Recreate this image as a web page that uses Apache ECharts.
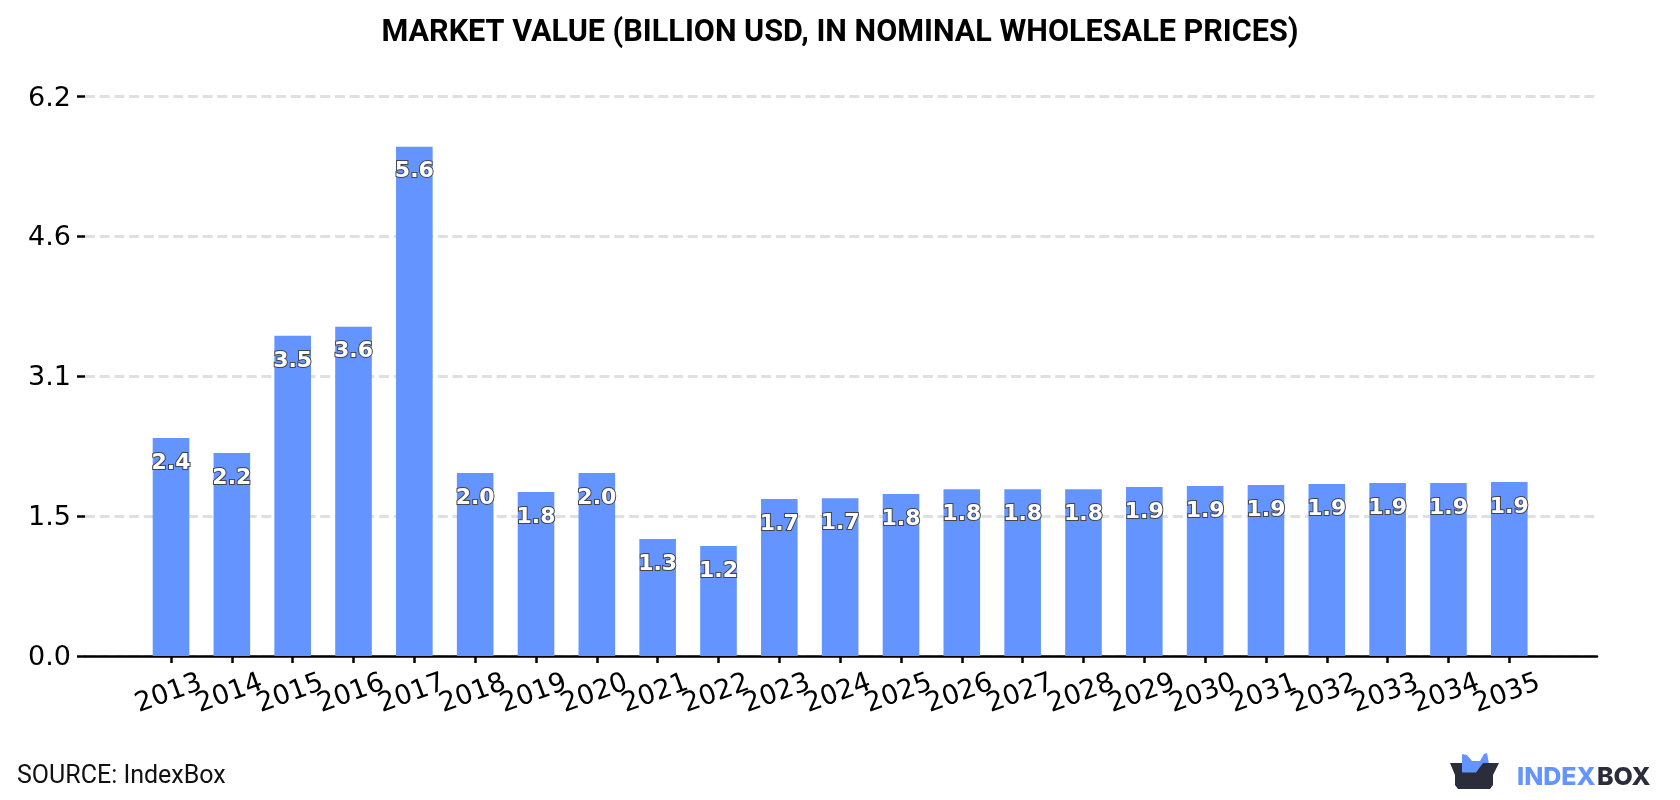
<!DOCTYPE html>
<html>
<head>
<meta charset="utf-8">
<title>Market value</title>
<style>
  html, body { margin: 0; padding: 0; background: #fff; }
  #chart { width: 1680px; height: 800px; }
</style>
<script src="https://cdn.jsdelivr.net/npm/echarts@6/dist/echarts.min.js"></script>
</head>
<body>
<div id="chart"></div>
<script>
const years = ['2013', '2014', '2015', '2016', '2017', '2018', '2019', '2020', '2021', '2022', '2023', '2024',
  '2025', '2026', '2027', '2028', '2029', '2030', '2031', '2032', '2033', '2034', '2035'];
const marketValue = [2.417, 2.249, 3.548, 3.649, 5.643, 2.029, 1.818, 2.029, 1.297, 1.22, 1.741, 1.749,
  1.796, 1.849, 1.849, 1.849, 1.874, 1.885, 1.896, 1.907, 1.918, 1.918, 1.929];
const yTickLabels = ['0.0', '1.5', '3.1', '4.6', '6.2'];
const titleText = 'MARKET VALUE (BILLION USD, IN NOMINAL WHOLESALE PRICES)';
const sourceText = 'SOURCE: IndexBox';

const BLUE = '#6394ff';
const DARK = '#2b2d3a';

const chart = echarts.init(document.getElementById('chart'), null, { renderer: 'canvas' });

chart.setOption({
  animation: false,
  backgroundColor: '#ffffff',
  title: {
    text: titleText,
    left: 835,
    top: 13,
    textAlign: 'center',
    textStyle: { fontFamily: 'Roboto', fontSize: 30.6, fontWeight: 'bold', color: '#000' }
  },
  // Outer grid holds the full-width baseline and the value gridlines;
  // inner grid is inset so the category bands line up with the bars.
  grid: [
    { left: 85, right: 83, top: 96.5, bottom: 144 },
    { left: 140.6, right: 140.3, top: 96.5, bottom: 144 }
  ],
  xAxis: [
    {
      gridIndex: 0,
      type: 'value',
      min: 0,
      max: 1,
      splitLine: { show: false },
      axisLine: { show: true, lineStyle: { color: '#000', width: 2.5 } },
      axisTick: { show: false },
      axisLabel: { show: false }
    },
    {
      gridIndex: 1,
      type: 'category',
      data: years,
      axisLine: { show: false },
      axisTick: {
        show: true, alignWithLabel: true, length: 7,
        lineStyle: { color: '#000', width: 2.5 }
      },
      axisLabel: {
        interval: 0,
        rotate: 20,
        align: 'center',
        verticalAlign: 'middle',
        margin: 37,
        padding: [0, 5, 0, 0],
        fontFamily: 'DejaVu Sans',
        fontSize: 27,
        color: '#000'
      }
    }
  ],
  yAxis: [
    {
      gridIndex: 0,
      type: 'value',
      min: 0,
      max: 6.2,
      interval: 1.55,
      axisLine: { show: false },
      axisTick: { show: true, length: 8, lineStyle: { color: '#000', width: 2.5 } },
      axisLabel: {
        formatter: (v, i) => `{t|${yTickLabels[i]}}`,
        margin: 14,
        rich: {
          t: {
            padding: [4, 0, 0, 0],
            fontFamily: 'DejaVu Sans',
            fontSize: 27,
            color: '#000'
          }
        }
      },
      splitLine: {
        show: true,
        lineStyle: { color: '#e0e0e0', width: 3, type: [10, 4.7] }
      }
    },
    {
      gridIndex: 1,
      type: 'value',
      min: 0,
      max: 6.2,
      interval: 1.55,
      axisLine: { show: false },
      axisTick: { show: false },
      axisLabel: { show: false },
      splitLine: { show: false }
    }
  ],
  series: [{
    type: 'bar',
    xAxisIndex: 1,
    yAxisIndex: 1,
    barWidth: 36.6,
    data: marketValue,
    itemStyle: { color: BLUE },
    label: {
      show: true,
      position: 'insideTop',
      distance: 14,
      formatter: p => p.value.toFixed(1),
      fontFamily: 'DejaVu Sans',
      fontSize: 22,
      fontWeight: 'bold',
      color: '#fff',
      textBorderColor: '#444',
      textBorderWidth: 2
    }
  }],
  graphic: [
    {
      type: 'text', left: 17, top: 764,
      style: { text: sourceText, fontFamily: 'Roboto', fontSize: 25, fill: '#111' }
    },
    {
      // Logo: blue crown rising out of a dark box
      type: 'polygon', z: 10,
      shape: { points: [[1462, 754], [1467, 755], [1472, 761], [1480, 761], [1484, 754], [1487, 753], [1489, 764], [1482, 773], [1462, 773]] },
      style: { fill: BLUE }
    },
    {
      type: 'polygon', z: 11,
      shape: { points: [[1450, 763], [1462, 763], [1462, 772.5], [1476, 772.5], [1483, 763], [1499, 763], [1493, 775], [1493, 785], [1490, 789], [1458, 789], [1455, 785], [1455, 775]] },
      style: { fill: DARK }
    },
    {
      type: 'text', left: 1517, top: 765, z: 10,
      style: { text: 'INDEX', fontFamily: 'Inter', fontSize: 25, fontWeight: 800, fill: BLUE }
    },
    {
      type: 'text', left: 1597, top: 765, z: 10,
      style: { text: 'BOX', fontFamily: 'Inter', fontSize: 25, fontWeight: 800, fill: DARK }
    }
  ]
});
</script>
</body>
</html>
